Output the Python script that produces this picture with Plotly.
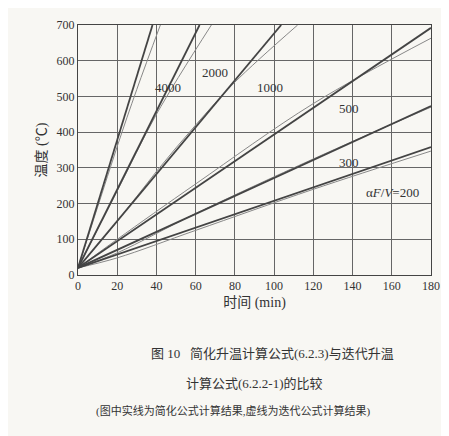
import plotly.graph_objects as go

# simplified formula (solid, linear)
solid_end = {
    "200": ([0, 180], [20, 358]),
    "300": ([0, 180], [20, 473]),
    "500": ([0, 180], [20, 692]),
    "1000": ([0, 103.6], [20, 700]),
    "2000": ([0, 62], [20, 700]),
    "4000": ([0, 38], [20, 700]),
}
# iterative formula (thin line)
iter_curves = {
    "200": ([0, 20, 60, 120, 180], [20, 48, 125, 240, 347]),
    "300": ([0, 20, 60, 120, 180], [20, 62, 172, 325, 470]),
    "500": ([0, 20, 60, 120, 180], [20, 100, 255, 480, 663]),
    "1000": ([0, 20, 40, 60, 80, 112], [20, 150, 290, 420, 540, 700]),
    "2000": ([0, 20, 40, 68], [20, 235, 450, 700]),
    "4000": ([0, 10, 20, 30, 42], [20, 190, 360, 520, 700]),
}
labels = ["4000", "2000", "1000", "500", "300", "α<i>F</i>/<i>V</i>=200"]
label_x = [38, 62, 90, 132, 132, 146]
label_y = [524, 566, 524, 465, 314, 230]

font = "'Liberation Serif', 'Noto Sans CJK SC', serif"
ink = "#333"

fig = go.Figure()
for k, (x, y) in iter_curves.items():
    fig.add_trace(go.Scatter(x=x, y=y, mode="lines", line=dict(color="#888", width=1, shape="spline")))
for k, (x, y) in solid_end.items():
    fig.add_trace(go.Scatter(x=x, y=y, mode="lines", line=dict(color="#444", width=1.8)))

for t, x, y in zip(labels, label_x, label_y):
    fig.add_annotation(x=x, y=y, text=t, showarrow=False, xanchor="left",
                       font=dict(family=font, size=13, color=ink))

fig.add_annotation(xref="paper", yref="paper", x=0.2, y=-0.35, xanchor="left",
                   text="图 10   简化升温计算公式(6.2.3)与迭代升温", showarrow=False,
                   font=dict(family=font, size=13, color=ink))
fig.add_annotation(xref="paper", yref="paper", x=0.5, y=-0.47,
                   text="计算公式(6.2.2-1)的比较", showarrow=False,
                   font=dict(family=font, size=13, color=ink))
fig.add_annotation(xref="paper", yref="paper", x=0.44, y=-0.58,
                   text="(图中实线为简化公式计算结果,虚线为迭代公式计算结果)", showarrow=False,
                   font=dict(family=font, size=11, color=ink))

fig.update_layout(
    width=449, height=436, showlegend=False,
    margin=dict(l=70, r=26, t=17, b=169),
    paper_bgcolor="#f8f7f3", plot_bgcolor="#f8f7f3",
    font=dict(family=font, color=ink, size=12),
)
fig.update_xaxes(range=[0, 180], dtick=20, showgrid=True, gridcolor="#666", gridwidth=1,
                 linecolor="#444", mirror=True, showline=True, zeroline=False, automargin=False,
                 title=dict(text="时间 (min)", standoff=4))
fig.update_yaxes(range=[0, 700], dtick=100, showgrid=True, gridcolor="#666", gridwidth=1,
                 linecolor="#444", mirror=True, showline=True, zeroline=False, automargin=False,
                 title=dict(text="温度 (℃)", standoff=6))
fig.write_html("out.html")
